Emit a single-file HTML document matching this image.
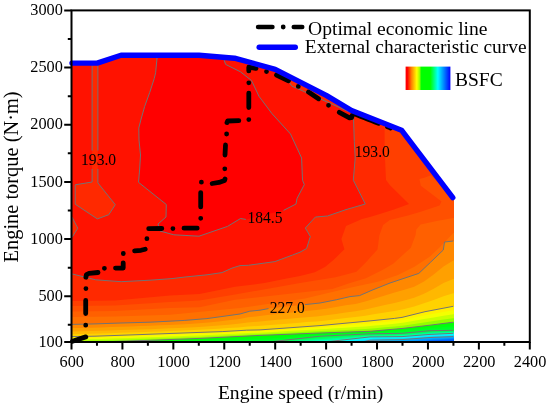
<!DOCTYPE html>
<html><head><meta charset="utf-8"><title>BSFC map</title>
<style>html,body{margin:0;padding:0;background:#fff;}svg{display:block;}</style>
</head><body>
<svg width="550" height="406" viewBox="0 0 550 406">
<defs><clipPath id="dc"><polygon points="71.0,342.0 71.0,63.1 72.0,63.1 97.2,63.1 121.0,55.3 199.0,55.2 234.5,58.2 275.2,69.3 326.2,95.4 351.6,110.5 401.5,130.2 452.8,197.6 454.0,199.2 454.0,342.0"/></clipPath></defs>
<g clip-path="url(#dc)">
<polygon points="70.0,346.0 70.0,63.1 72.0,63.1 97.2,63.1 121.0,55.3 199.0,55.2 234.5,58.2 275.2,69.3 326.2,95.4 351.6,110.5 401.5,130.2 452.8,197.6 456.0,201.0 456.0,346.0" fill="#ff1200"/>
<polygon points="157.0,54.0 157.1,57.5 155.6,72.8 154.2,78.7 149.7,92.5 144.7,106.3 140.8,120.1 138.8,128.0 139.0,140.0 140.5,155.0 139.6,170.0 138.5,182.3 166.3,204.5 166.0,217.0 158.0,224.0 160.0,231.0 173.8,234.8 199.0,236.2 227.5,226.4 240.5,218.5 245.9,219.4 264.0,215.0 283.5,210.4 296.0,204.0 297.0,198.5 304.3,184.6 302.5,180.2 301.6,158.0 290.5,134.0 272.0,113.7 258.9,96.2 251.5,80.5 240.4,71.8 225.6,64.4 223.4,58.0 223.4,54.0 223.4,50.0 157.0,50.0" fill="#ff0000"/>
<polygon points="92.1,58.0 92.1,182.0 75.2,184.8 75.2,204.2 97.3,218.9 108.8,214.7 115.3,204.7 97.9,182.9 97.9,58.0 97.9,50.0 92.1,50.0" fill="#ff2900"/>
<polygon points="70.0,217.1 72.0,217.1 77.8,228.2 72.0,237.4 70.0,237.4" fill="#ff2900"/>
<polygon points="72.0,273.9 95.6,279.8 121.2,281.7 150.0,280.2 172.0,278.6 185.0,277.0 207.0,274.8 222.0,272.6 232.0,268.1 240.0,265.6 248.3,265.3 274.9,261.6 292.6,255.0 300.0,252.2 306.6,248.5 310.3,236.5 305.3,228.0 315.4,217.0 327.5,216.0 346.0,209.6 365.3,204.0 353.3,180.2 355.2,158.0 354.3,141.4 353.5,118.3 353.5,112.5 401.5,130.2 452.8,197.6 453.3,197.6 455.3,197.6 455.3,346.0 70.0,346.0 70.0,273.9" fill="#ff2900"/>
<polygon points="288.0,79.0 289.5,82.4 291.6,86.0 304.7,91.8 320.7,99.1 335.0,105.5 349.8,112.2 353.5,113.5 353.5,104.0 288.0,76.0" fill="#ff2900"/>
<polygon points="72.0,301.0 115.0,300.5 170.0,295.5 199.5,294.0 221.7,289.5 235.0,286.8 264.5,283.1 286.7,278.6 300.0,275.9 314.8,272.2 325.0,267.0 334.0,259.6 344.4,249.2 341.4,239.0 346.0,226.0 362.0,219.0 370.0,217.0 383.0,213.0 394.0,209.5 409.0,204.0 389.8,185.0 386.0,180.0 384.6,150.0 384.6,126.0 384.4,121.5 401.5,130.2 452.8,197.6 453.3,197.6 455.3,197.6 455.3,346.0 70.0,346.0 70.0,301.0" fill="#ff3f00"/>
<polygon points="72.0,306.0 115.0,305.5 170.0,302.0 199.5,300.6 235.0,294.5 300.0,283.0 335.5,277.3 350.0,273.4 356.4,271.8 366.0,262.2 377.5,249.4 379.4,235.3 383.1,225.0 389.8,220.0 396.0,218.5 408.0,215.5 419.9,212.0 429.7,208.8 439.6,205.5 441.5,201.6 432.7,194.7 420.8,185.8 419.4,179.0 424.4,177.7 431.0,175.3 452.8,197.6 453.3,197.6 455.3,197.6 455.3,346.0 70.0,346.0 70.0,306.0" fill="#ff5000"/>
<polygon points="72.0,311.5 115.0,311.0 170.0,308.0 199.5,307.3 235.0,299.8 305.0,291.9 332.5,289.0 350.0,283.0 366.0,278.2 382.0,270.2 393.2,263.8 410.8,247.8 415.6,235.0 416.3,229.6 420.6,224.6 436.7,221.0 453.3,218.0 455.3,218.0 455.3,346.0 70.0,346.0 70.0,311.5" fill="#ff6000"/>
<polygon points="72.0,317.0 115.0,316.5 170.0,314.7 240.0,308.0 305.0,298.5 350.0,287.8 378.8,281.4 398.0,275.0 414.0,267.0 430.0,256.5 440.0,247.0 453.3,233.0 455.3,233.0 455.3,346.0 70.0,346.0 70.0,317.0" fill="#ff7000"/>
<polygon points="72.0,324.4 95.0,323.9 121.0,323.0 150.0,322.2 184.8,320.4 206.9,318.6 240.0,314.0 249.8,311.2 260.0,310.2 268.5,308.6 305.0,304.6 320.0,303.0 336.7,299.7 350.0,296.6 359.6,295.6 372.0,290.2 390.0,283.0 418.8,273.4 430.2,262.6 443.3,250.0 444.5,242.0 453.3,241.0 455.3,241.0 455.3,346.0 70.0,346.0 70.0,324.4" fill="#ff8800"/>
<polygon points="72.0,328.1 81.8,327.9 91.6,327.7 101.3,327.4 111.1,327.0 120.9,326.7 130.7,326.4 140.4,326.1 150.2,325.8 160.0,325.3 169.8,324.9 179.5,324.4 189.3,323.9 199.1,323.2 208.9,322.5 218.7,321.4 228.4,320.3 238.2,319.2 248.0,317.3 257.8,316.3 267.5,315.0 277.3,313.9 287.1,313.0 296.9,312.0 306.6,311.1 316.4,310.1 326.2,308.7 336.0,307.1 345.8,305.3 355.5,303.9 365.3,301.6 375.1,298.4 384.9,295.4 394.6,292.5 404.4,289.8 414.2,286.8 424.0,281.5 433.7,274.4 443.5,266.4 453.3,260.6 455.3,260.6 455.3,346.0 70.0,346.0 70.0,328.1" fill="#ffa000"/>
<polygon points="72.0,331.5 81.8,331.3 91.6,331.1 101.3,330.8 111.1,330.5 120.9,330.1 130.7,329.8 140.4,329.5 150.2,329.2 160.0,328.7 169.8,328.3 179.5,327.9 189.3,327.4 199.1,326.9 208.9,326.3 218.7,325.5 228.4,324.7 238.2,323.8 248.0,322.4 257.8,321.7 267.5,320.7 277.3,319.8 287.1,319.0 296.9,318.1 306.6,317.3 316.4,316.4 326.2,315.3 336.0,313.9 345.8,312.4 355.5,311.2 365.3,309.5 375.1,307.2 384.9,305.0 394.6,302.9 404.4,300.6 414.2,297.8 424.0,293.7 433.7,288.7 443.5,283.1 453.3,278.9 455.3,278.9 455.3,346.0 70.0,346.0 70.0,331.5" fill="#ffb800"/>
<polygon points="72.0,334.2 81.8,334.0 91.6,333.8 101.3,333.5 111.1,333.2 120.9,332.8 130.7,332.5 140.4,332.2 150.2,331.8 160.0,331.4 169.8,331.0 179.5,330.7 189.3,330.2 199.1,329.8 208.9,329.3 218.7,328.8 228.4,328.1 238.2,327.4 248.0,326.5 257.8,326.0 267.5,325.2 277.3,324.5 287.1,323.7 296.9,322.9 306.6,322.1 316.4,321.4 326.2,320.4 336.0,319.2 345.8,318.1 355.5,317.0 365.3,315.7 375.1,314.1 384.9,312.5 394.6,311.0 404.4,309.1 414.2,306.5 424.0,303.3 433.7,299.9 443.5,296.2 453.3,293.2 455.3,293.2 455.3,346.0 70.0,346.0 70.0,334.2" fill="#ffd200"/>
<polygon points="72.0,336.6 95.0,336.2 140.0,334.6 200.0,332.4 222.2,331.6 246.6,330.2 260.0,329.9 320.0,325.6 370.0,320.9 394.6,318.4 402.0,317.4 425.0,311.7 453.3,306.3 455.3,306.3 455.3,346.0 70.0,346.0 70.0,336.6" fill="#fff000"/>
<polygon points="72.0,338.1 81.8,337.9 91.6,337.7 101.3,337.4 111.1,337.1 120.9,336.8 130.7,336.4 140.4,336.1 150.2,335.7 160.0,335.4 169.8,335.0 179.5,334.7 189.3,334.3 199.1,333.9 208.9,333.5 218.7,333.2 228.4,332.7 238.2,332.1 248.0,331.6 257.8,331.3 267.5,330.8 277.3,330.2 287.1,329.5 296.9,328.9 306.6,328.3 316.4,327.7 326.2,327.0 336.0,326.2 345.8,325.4 355.5,324.6 365.3,323.9 375.1,323.0 384.9,322.0 394.6,321.1 404.4,319.7 414.2,317.5 424.0,315.4 433.7,313.7 443.5,312.0 453.3,310.3 455.3,310.3 455.3,346.0 70.0,346.0 70.0,338.1" fill="#f4ff00"/>
<polygon points="72.0,339.5 81.8,339.3 91.6,339.1 101.3,338.9 111.1,338.6 120.9,338.3 130.7,337.9 140.4,337.6 150.2,337.3 160.0,336.9 169.8,336.5 179.5,336.2 189.3,335.8 199.1,335.4 208.9,335.0 218.7,334.6 228.4,334.1 238.2,333.6 248.0,333.1 257.8,332.7 267.5,332.2 277.3,331.7 287.1,331.1 296.9,330.6 306.6,330.0 316.4,329.5 326.2,328.9 336.0,328.3 345.8,327.7 355.5,327.0 365.3,326.4 375.1,325.6 384.9,324.7 394.6,323.8 404.4,322.5 414.2,320.7 424.0,318.9 433.7,317.4 443.5,315.8 453.3,314.2 455.3,314.2 455.3,346.0 70.0,346.0 70.0,339.5" fill="#c8ff00"/>
<polygon points="72.0,340.9 81.8,340.8 91.6,340.6 101.3,340.3 111.1,340.1 120.9,339.8 130.7,339.4 140.4,339.1 150.2,338.8 160.0,338.4 169.8,338.0 179.5,337.7 189.3,337.3 199.1,336.9 208.9,336.5 218.7,336.0 228.4,335.5 238.2,335.0 248.0,334.5 257.8,334.1 267.5,333.7 277.3,333.2 287.1,332.7 296.9,332.3 306.6,331.8 316.4,331.3 326.2,330.8 336.0,330.4 345.8,329.9 355.5,329.4 365.3,328.9 375.1,328.2 384.9,327.3 394.6,326.5 404.4,325.4 414.2,323.9 424.0,322.4 433.7,321.0 443.5,319.6 453.3,318.2 455.3,318.2 455.3,346.0 70.0,346.0 70.0,340.9" fill="#90ff00"/>
<polygon points="72.0,342.4 110.0,341.6 150.0,340.3 200.0,338.4 260.0,335.4 320.0,333.0 370.0,331.3 402.0,328.5 430.0,325.2 453.3,322.2 455.3,322.2 455.3,346.0 70.0,346.0 70.0,342.4" fill="#08ff00"/>
<polygon points="72.0,343.8 81.8,343.6 91.6,343.3 101.3,343.1 111.1,342.9 120.9,342.5 130.7,342.2 140.4,341.9 150.2,341.6 160.0,341.2 169.8,340.9 179.5,340.5 189.3,340.2 199.1,339.8 208.9,339.4 218.7,338.9 228.4,338.5 238.2,338.0 248.0,337.6 257.8,337.1 267.5,336.7 277.3,336.3 287.1,335.7 296.9,335.1 306.6,334.6 316.4,334.0 326.2,333.6 336.0,333.2 345.8,332.8 355.5,332.5 365.3,332.1 375.1,331.6 384.9,330.9 394.6,330.2 404.4,329.4 414.2,328.3 424.0,327.2 433.7,326.2 443.5,325.2 453.3,324.2 455.3,324.2 455.3,346.0 70.0,346.0 70.0,343.8" fill="#00ff10"/>
<polygon points="72.0,345.2 81.8,344.9 91.6,344.7 101.3,344.4 111.1,344.1 120.9,343.8 130.7,343.5 140.4,343.2 150.2,342.9 160.0,342.5 169.8,342.2 179.5,341.8 189.3,341.5 199.1,341.2 208.9,340.8 218.7,340.4 228.4,340.0 238.2,339.6 248.0,339.2 257.8,338.8 267.5,338.4 277.3,337.9 287.1,337.1 296.9,336.4 306.6,335.6 316.4,334.9 326.2,334.3 336.0,333.9 345.8,333.5 355.5,333.1 365.3,332.7 375.1,332.3 384.9,331.8 394.6,331.3 404.4,330.6 414.2,329.6 424.0,328.6 433.7,327.7 443.5,327.0 453.3,326.2 455.3,326.2 455.3,346.0 70.0,346.0 70.0,345.2" fill="#00ff20"/>
<polygon points="72.0,346.6 81.8,346.3 91.6,346.0 101.3,345.7 111.1,345.4 120.9,345.1 130.7,344.8 140.4,344.5 150.2,344.2 160.0,343.8 169.8,343.5 179.5,343.2 189.3,342.9 199.1,342.5 208.9,342.2 218.7,341.8 228.4,341.5 238.2,341.1 248.0,340.7 257.8,340.4 267.5,340.0 277.3,339.4 287.1,338.5 296.9,337.6 306.6,336.7 316.4,335.7 326.2,335.1 336.0,334.7 345.8,334.3 355.5,333.8 365.3,333.4 375.1,333.0 384.9,332.7 394.6,332.3 404.4,331.9 414.2,330.9 424.0,329.9 433.7,329.2 443.5,328.7 453.3,328.3 455.3,328.3 455.3,346.0 70.0,346.0 70.0,346.6" fill="#00ff30"/>
<polygon points="72.0,348.0 273.0,341.5 320.0,336.2 370.0,333.8 402.0,333.3 430.0,330.7 453.3,330.3 455.3,330.3 455.3,346.0 70.0,346.0 70.0,348.0" fill="#00ff40"/>
<polygon points="72.0,349.0 81.8,348.7 91.6,348.3 101.3,348.0 111.1,347.6 120.9,347.3 130.7,347.0 140.4,346.6 150.2,346.3 160.0,346.0 169.8,345.6 179.5,345.3 189.3,344.9 199.1,344.6 208.9,344.3 218.7,343.9 228.4,343.6 238.2,343.3 248.0,342.9 257.8,342.6 267.5,342.2 277.3,341.6 287.1,340.7 296.9,339.8 306.6,338.9 316.4,337.9 326.2,337.3 336.0,336.8 345.8,336.1 355.5,335.5 365.3,334.9 375.1,334.5 384.9,334.4 394.6,334.2 404.4,333.9 414.2,333.0 424.0,332.2 433.7,331.5 443.5,331.3 453.3,331.1 455.3,331.1 455.3,346.0 70.0,346.0 70.0,349.0" fill="#00ff60"/>
<polygon points="72.0,350.0 81.8,349.6 91.6,349.3 101.3,348.9 111.1,348.6 120.9,348.2 130.7,347.8 140.4,347.5 150.2,347.1 160.0,346.8 169.8,346.4 179.5,346.0 189.3,345.7 199.1,345.3 208.9,345.0 218.7,344.6 228.4,344.2 238.2,343.9 248.0,343.5 257.8,343.2 267.5,342.8 277.3,342.3 287.1,341.5 296.9,340.8 306.6,340.0 316.4,339.3 326.2,338.7 336.0,338.1 345.8,337.3 355.5,336.5 365.3,335.7 375.1,335.3 384.9,335.2 394.6,335.0 404.4,334.7 414.2,333.9 424.0,333.1 433.7,332.4 443.5,332.1 453.3,331.8 455.3,331.8 455.3,346.0 70.0,346.0 70.0,350.0" fill="#00ff90"/>
<polygon points="72.0,351.0 81.8,350.6 91.6,350.2 101.3,349.9 111.1,349.5 120.9,349.1 130.7,348.7 140.4,348.3 150.2,347.9 160.0,347.6 169.8,347.2 179.5,346.8 189.3,346.4 199.1,346.0 208.9,345.7 218.7,345.3 228.4,344.9 238.2,344.5 248.0,344.1 257.8,343.7 267.5,343.4 277.3,342.9 287.1,342.3 296.9,341.7 306.6,341.2 316.4,340.6 326.2,340.1 336.0,339.4 345.8,338.5 355.5,337.5 365.3,336.6 375.1,336.1 384.9,336.0 394.6,335.9 404.4,335.6 414.2,334.8 424.0,334.0 433.7,333.3 443.5,332.9 453.3,332.6 455.3,332.6 455.3,346.0 70.0,346.0 70.0,351.0" fill="#00ffc0"/>
<polygon points="72.0,352.0 331.0,341.3 370.0,336.9 402.0,336.6 430.0,334.4 453.3,333.3 455.3,333.3 455.3,346.0 70.0,346.0 70.0,352.0" fill="#00ffec"/>
<polygon points="72.0,353.0 81.8,352.6 91.6,352.2 101.3,351.7 111.1,351.3 120.9,350.9 130.7,350.5 140.4,350.1 150.2,349.7 160.0,349.2 169.8,348.8 179.5,348.4 189.3,348.0 199.1,347.6 208.9,347.2 218.7,346.7 228.4,346.3 238.2,345.9 248.0,345.5 257.8,345.1 267.5,344.6 277.3,344.2 287.1,343.8 296.9,343.4 306.6,343.0 316.4,342.6 326.2,342.1 336.0,341.5 345.8,340.5 355.5,339.6 365.3,338.4 375.1,337.7 384.9,337.6 394.6,337.4 404.4,337.2 414.2,336.4 424.0,335.6 433.7,335.0 443.5,334.6 453.3,334.1 455.3,334.1 455.3,346.0 70.0,346.0 70.0,353.0" fill="#00f8ff"/>
<polygon points="72.0,354.0 81.8,353.6 91.6,353.1 101.3,352.7 111.1,352.3 120.9,351.8 130.7,351.4 140.4,351.0 150.2,350.6 160.0,350.1 169.8,349.7 179.5,349.3 189.3,348.8 199.1,348.4 208.9,348.0 218.7,347.5 228.4,347.1 238.2,346.7 248.0,346.2 257.8,345.8 267.5,345.4 277.3,344.9 287.1,344.5 296.9,344.1 306.6,343.7 316.4,343.2 326.2,342.8 336.0,342.2 345.8,341.4 355.5,340.6 365.3,339.4 375.1,338.5 384.9,338.3 394.6,338.2 404.4,337.9 414.2,337.2 424.0,336.4 433.7,335.8 443.5,335.4 453.3,335.0 455.3,335.0 455.3,346.0 70.0,346.0 70.0,354.0" fill="#00e4ff"/>
<polygon points="72.0,355.0 81.8,354.6 91.6,354.1 101.3,353.7 111.1,353.2 120.9,352.8 130.7,352.3 140.4,351.9 150.2,351.4 160.0,351.0 169.8,350.6 179.5,350.1 189.3,349.7 199.1,349.2 208.9,348.8 218.7,348.3 228.4,347.9 238.2,347.4 248.0,347.0 257.8,346.6 267.5,346.1 277.3,345.7 287.1,345.2 296.9,344.8 306.6,344.3 316.4,343.9 326.2,343.4 336.0,342.9 345.8,342.3 355.5,341.7 365.3,340.3 375.1,339.3 384.9,339.1 394.6,339.0 404.4,338.7 414.2,337.9 424.0,337.2 433.7,336.6 443.5,336.2 453.3,335.8 455.3,335.8 455.3,346.0 70.0,346.0 70.0,355.0" fill="#00d0ff"/>
<polygon points="72.0,356.0 360.0,342.5 370.0,340.2 402.0,339.6 430.0,337.5 453.3,336.6 455.3,336.6 455.3,346.0 70.0,346.0 70.0,356.0" fill="#00b8ff"/>
<polygon points="72.0,357.0 81.8,356.5 91.6,356.1 101.3,355.6 111.1,355.1 120.9,354.7 130.7,354.2 140.4,353.7 150.2,353.3 160.0,352.8 169.8,352.3 179.5,351.9 189.3,351.4 199.1,350.9 208.9,350.5 218.7,350.0 228.4,349.5 238.2,349.1 248.0,348.6 257.8,348.1 267.5,347.7 277.3,347.2 287.1,346.7 296.9,346.3 306.6,345.8 316.4,345.3 326.2,344.9 336.0,344.4 345.8,343.9 355.5,343.5 365.3,342.3 375.1,341.3 384.9,341.0 394.6,340.7 404.4,340.3 414.2,339.5 424.0,338.8 433.7,338.1 443.5,337.7 453.3,337.2 455.3,337.2 455.3,346.0 70.0,346.0 70.0,357.0" fill="#00a4ff"/>
<polygon points="72.0,358.0 81.8,357.5 91.6,357.0 101.3,356.6 111.1,356.1 120.9,355.6 130.7,355.1 140.4,354.7 150.2,354.2 160.0,353.7 169.8,353.2 179.5,352.8 189.3,352.3 199.1,351.8 208.9,351.3 218.7,350.9 228.4,350.4 238.2,349.9 248.0,349.4 257.8,349.0 267.5,348.5 277.3,348.0 287.1,347.5 296.9,347.1 306.6,346.6 316.4,346.1 326.2,345.6 336.0,345.2 345.8,344.7 355.5,344.2 365.3,343.3 375.1,342.4 384.9,342.1 394.6,341.8 404.4,341.2 414.2,340.4 424.0,339.6 433.7,338.9 443.5,338.4 453.3,337.9 455.3,337.9 455.3,346.0 70.0,346.0 70.0,358.0" fill="#0094ff"/>
<polygon points="72.0,359.0 81.8,358.5 91.6,358.0 101.3,357.5 111.1,357.1 120.9,356.6 130.7,356.1 140.4,355.6 150.2,355.1 160.0,354.6 169.8,354.2 179.5,353.7 189.3,353.2 199.1,352.7 208.9,352.2 218.7,351.7 228.4,351.3 238.2,350.8 248.0,350.3 257.8,349.8 267.5,349.3 277.3,348.8 287.1,348.4 296.9,347.9 306.6,347.4 316.4,346.9 326.2,346.4 336.0,345.9 345.8,345.5 355.5,345.0 365.3,344.3 375.1,343.6 384.9,343.2 394.6,342.8 404.4,342.2 414.2,341.3 424.0,340.4 433.7,339.6 443.5,339.1 453.3,338.5 455.3,338.5 455.3,346.0 70.0,346.0 70.0,359.0" fill="#0080ff"/>
<polygon points="72.0,360.0 400.0,343.5 430.0,340.6 453.3,339.2 455.3,339.2 455.3,346.0 70.0,346.0 70.0,360.0" fill="#0060ff"/>
</g>
<g clip-path="url(#dc)">
<polyline points="157.1,57.5 155.6,72.8 154.2,78.7 149.7,92.5 144.7,106.3 140.8,120.1 138.8,128.0 139.0,140.0 140.5,155.0 139.6,170.0 138.5,182.3 166.3,204.5 166.0,217.0 158.0,224.0 160.0,231.0 173.8,234.8 199.0,236.2 227.5,226.4 240.5,218.5 245.9,219.4" fill="none" stroke="#737373" stroke-width="1.00" stroke-linejoin="round"/>
<polyline points="283.5,210.4 296.0,204.0 297.0,198.5 304.3,184.6 302.5,180.2 301.6,158.0 290.5,134.0 272.0,113.7 258.9,96.2 251.5,80.5 240.4,71.8 225.6,64.4 223.4,58.0" fill="none" stroke="#737373" stroke-width="1.00" stroke-linejoin="round"/>
<polyline points="92.1,60.0 92.1,150.5" fill="none" stroke="#737373" stroke-width="1.00" stroke-linejoin="round"/>
<polyline points="97.9,60.0 97.9,150.5" fill="none" stroke="#737373" stroke-width="1.00" stroke-linejoin="round"/>
<polyline points="92.1,169.0 92.1,182.0 75.2,184.8 75.2,204.2 97.3,218.9 108.8,214.7 115.3,204.7 97.9,182.9 97.9,169.0" fill="none" stroke="#737373" stroke-width="1.00" stroke-linejoin="round"/>
<polyline points="72.0,217.1 77.8,228.2 72.0,237.4" fill="none" stroke="#737373" stroke-width="1.00" stroke-linejoin="round"/>
<polyline points="72.0,273.9 95.6,279.8 121.2,281.7 150.0,280.2 172.0,278.6 185.0,277.0 207.0,274.8 222.0,272.6 232.0,268.1 240.0,265.6 248.3,265.3 274.9,261.6 292.6,255.0 300.0,252.2 306.6,248.5 310.3,236.5 305.3,228.0 315.4,217.0 327.5,216.0 346.0,209.6 365.3,204.0 353.3,180.2 355.2,158.0 354.3,141.4 353.5,118.3" fill="none" stroke="#737373" stroke-width="1.00" stroke-linejoin="round"/>
<polyline points="288.0,79.0 289.5,82.4 291.6,86.0 304.7,91.8 320.7,99.1 335.0,105.5 349.8,112.2 353.5,113.5" fill="none" stroke="#737373" stroke-width="1.00" stroke-linejoin="round"/>
<polyline points="72.0,324.4 95.0,323.9 121.0,323.0 150.0,322.2 184.8,320.4 206.9,318.6 240.0,314.0 249.8,311.2 260.0,310.2 268.5,308.6" fill="none" stroke="#737373" stroke-width="1.00" stroke-linejoin="round"/>
<polyline points="305.0,304.6 320.0,303.0 336.7,299.7 350.0,296.6 359.6,295.6 372.0,290.2 390.0,283.0 418.8,273.4 430.2,262.6 443.3,250.0 444.5,242.0 453.3,241.0" fill="none" stroke="#737373" stroke-width="1.00" stroke-linejoin="round"/>
<polyline points="72.0,336.6 95.0,336.2 140.0,334.6 200.0,332.4 222.2,331.6 246.6,330.2 260.0,329.9 320.0,325.6 370.0,320.9 394.6,318.4 402.0,317.4 425.0,311.7 453.3,306.3" fill="none" stroke="#737373" stroke-width="1.00" stroke-linejoin="round"/>
<polyline points="72.0,342.4 110.0,341.6 150.0,340.3 200.0,338.4 260.0,335.4 320.0,333.0 370.0,331.3 402.0,328.5 430.0,325.2 453.3,322.2" fill="none" stroke="#737373" stroke-width="1.00" stroke-linejoin="round"/>
<polyline points="72.0,348.0 273.0,341.5 320.0,336.2 370.0,333.8 402.0,333.3 430.0,330.7 453.3,330.3" fill="none" stroke="#737373" stroke-width="1.00" stroke-linejoin="round"/>
<polyline points="72.0,352.0 331.0,341.3 370.0,336.9 402.0,336.6 430.0,334.4 453.3,333.3" fill="none" stroke="#737373" stroke-width="1.00" stroke-linejoin="round"/>
<polyline points="72.0,356.0 360.0,342.5 370.0,340.2 402.0,339.6 430.0,337.5 453.3,336.6" fill="none" stroke="#737373" stroke-width="1.00" stroke-linejoin="round"/>
</g>
<text x="0" y="0" font-size="17.4" text-anchor="middle" font-family="Liberation Serif, Times New Roman, serif" transform="translate(98.6,165.2) scale(0.895,1)">193.0</text>
<text x="0" y="0" font-size="17.4" text-anchor="middle" font-family="Liberation Serif, Times New Roman, serif" transform="translate(264.9,223.4) scale(0.895,1)">184.5</text>
<text x="0" y="0" font-size="17.4" text-anchor="middle" font-family="Liberation Serif, Times New Roman, serif" transform="translate(372.3,156.6) scale(0.895,1)">193.0</text>
<text x="0" y="0" font-size="17.4" text-anchor="middle" font-family="Liberation Serif, Times New Roman, serif" transform="translate(287.2,312.8) scale(0.895,1)">227.0</text>
<path d="M72.5,341.3 L85.8,336.9 M85.7,313.5 L85.7,300.4 M85.9,277.2 L86.4,274.6 L89.0,273.4 L98.0,272.5 M115.5,268.1 L123.2,268.1 L123.2,262.8 M134.6,250.9 L141.0,250.3 L145.2,249.2 M148.7,228.7 L161.8,228.5 M184.0,228.2 L197.2,228.2 M200.7,206.9 L200.7,192.6 M212.2,183.5 L219.0,182.4 L224.5,180.5 L225.0,179.0 M225.0,155.0 L225.5,145.0 M227.0,122.6 L227.6,121.0 L238.8,120.6 M248.8,107.5 L248.8,93.1 M248.8,70.9 L248.8,67.2 L256.0,68.4 M276.5,75.0 L288.5,80.8 M308.5,92.0 L318.5,98.8 M339.3,112.3 L349.5,117.8 L351.6,117.6 L352.2,115.5 M354.0,113.6 L357.5,115.0 L361.0,116.4 L364.5,117.8 L368.0,119.2 L371.5,120.6 L375.0,121.9 L378.5,123.3 M387.5,126.7 L389.0,127.3 L390.5,127.9 M85.7,325.2 h0.01 M85.9,288.6 h0.01 M104.4,268.3 h0.01 M123.3,253.5 h0.01 M146.9,238.7 h0.01 M172.9,228.6 h0.01 M200.7,218.3 h0.01 M201.4,182.2 h0.01 M224.8,168.8 h0.01 M226.6,134.0 h0.01 M248.8,119.6 h0.01 M248.8,82.8 h0.01 M266.5,71.6 h0.01 M298.3,86.4 h0.01 M328.5,105.3 h0.01" fill="none" stroke="#000" stroke-width="4.8" stroke-linecap="round" stroke-linejoin="round"/>
<polyline points="72.0,63.1 97.2,63.1 121.0,55.3 199.0,55.2 234.5,58.2 275.2,69.3 326.2,95.4 351.6,110.5 401.5,130.2 452.8,197.6" fill="none" stroke="#0000ff" stroke-width="5.4" stroke-linejoin="round" stroke-linecap="round"/>
<rect x="71.5" y="10.4" width="458.3" height="331.6" fill="none" stroke="#000" stroke-width="2"/>
<path d="M71.50,342V349.4 M122.42,342V349.4 M173.34,342V349.4 M224.27,342V349.4 M275.19,342V349.4 M326.11,342V349.4 M377.03,342V349.4 M427.95,342V349.4 M478.88,342V349.4 M529.80,342V349.4 M96.96,342V345.8 M147.88,342V345.8 M198.81,342V345.8 M249.73,342V345.8 M300.65,342V345.8 M351.57,342V345.8 M402.49,342V345.8 M453.42,342V345.8 M504.34,342V345.8 M64.2,296.26H71.5 M64.2,239.09H71.5 M64.2,181.92H71.5 M64.2,124.75H71.5 M64.2,67.57H71.5 M64.2,10.40H71.5 M64.2,342H71.5 M67.8,324.85H71.5 M67.8,267.68H71.5 M67.8,210.50H71.5 M67.8,153.33H71.5 M67.8,96.16H71.5 M67.8,38.99H71.5" stroke="#000" stroke-width="2" fill="none"/>
<text x="71.8" y="367.0" font-size="16.3" text-anchor="middle" font-family="Liberation Serif, Times New Roman, serif" >600</text>
<text x="122.7" y="367.0" font-size="16.3" text-anchor="middle" font-family="Liberation Serif, Times New Roman, serif" >800</text>
<text x="173.6" y="367.0" font-size="16.3" text-anchor="middle" font-family="Liberation Serif, Times New Roman, serif" >1000</text>
<text x="224.6" y="367.0" font-size="16.3" text-anchor="middle" font-family="Liberation Serif, Times New Roman, serif" >1200</text>
<text x="275.5" y="367.0" font-size="16.3" text-anchor="middle" font-family="Liberation Serif, Times New Roman, serif" >1400</text>
<text x="326.4" y="367.0" font-size="16.3" text-anchor="middle" font-family="Liberation Serif, Times New Roman, serif" >1600</text>
<text x="377.3" y="367.0" font-size="16.3" text-anchor="middle" font-family="Liberation Serif, Times New Roman, serif" >1800</text>
<text x="428.3" y="367.0" font-size="16.3" text-anchor="middle" font-family="Liberation Serif, Times New Roman, serif" >2000</text>
<text x="479.2" y="367.0" font-size="16.3" text-anchor="middle" font-family="Liberation Serif, Times New Roman, serif" >2200</text>
<text x="530.1" y="367.0" font-size="16.3" text-anchor="middle" font-family="Liberation Serif, Times New Roman, serif" >2400</text>
<text x="62.8" y="300.9" font-size="16.3" text-anchor="end" font-family="Liberation Serif, Times New Roman, serif" >500</text>
<text x="62.8" y="243.7" font-size="16.3" text-anchor="end" font-family="Liberation Serif, Times New Roman, serif" >1000</text>
<text x="62.8" y="186.5" font-size="16.3" text-anchor="end" font-family="Liberation Serif, Times New Roman, serif" >1500</text>
<text x="62.8" y="129.3" font-size="16.3" text-anchor="end" font-family="Liberation Serif, Times New Roman, serif" >2000</text>
<text x="62.8" y="72.2" font-size="16.3" text-anchor="end" font-family="Liberation Serif, Times New Roman, serif" >2500</text>
<text x="62.8" y="15.0" font-size="16.3" text-anchor="end" font-family="Liberation Serif, Times New Roman, serif" >3000</text>
<text x="62.8" y="346.6" font-size="16.3" text-anchor="end" font-family="Liberation Serif, Times New Roman, serif" >100</text>
<text x="300.6" y="399.3" font-size="19.6" text-anchor="middle" font-family="Liberation Serif, Times New Roman, serif" >Engine speed (r/min)</text>
<text x="0" y="0" font-size="20.4" text-anchor="middle" font-family="Liberation Serif, Times New Roman, serif" transform="translate(18.4,176.9) rotate(-90)">Engine torque (N&#183;m)</text>
<line x1="258.1" y1="27" x2="272.4" y2="27" stroke="#000" stroke-width="4.6" stroke-linecap="round"/>
<circle cx="283.2" cy="27" r="2.4" fill="#000"/>
<line x1="293.8" y1="27" x2="302.2" y2="27" stroke="#000" stroke-width="4.6" stroke-linecap="round"/>
<text x="308.0" y="34.8" font-size="19.6" text-anchor="start" font-family="Liberation Serif, Times New Roman, serif" >Optimal economic line</text>
<line x1="259.2" y1="47.3" x2="295.3" y2="47.3" stroke="#0000ff" stroke-width="5.4" stroke-linecap="round"/>
<text x="304.8" y="53.4" font-size="19.4" text-anchor="start" font-family="Liberation Serif, Times New Roman, serif" >External characteristic curve</text>
<defs><linearGradient id="lg" x1="0" x2="1" y1="0" y2="0"><stop offset="0" stop-color="#ff0000"/><stop offset="0.04" stop-color="#ff0000"/><stop offset="0.13" stop-color="#ff8000"/><stop offset="0.25" stop-color="#ffff00"/><stop offset="0.31" stop-color="#a0ff00"/><stop offset="0.35" stop-color="#00ff00"/><stop offset="0.55" stop-color="#00ff00"/><stop offset="0.72" stop-color="#00ffff"/><stop offset="1" stop-color="#0000ff"/></linearGradient></defs>
<rect x="405.6" y="66.6" width="44.8" height="23.4" fill="url(#lg)"/>
<text x="455.0" y="86.0" font-size="19.5" text-anchor="start" font-family="Liberation Serif, Times New Roman, serif" >BSFC</text>
</svg>
</body></html>
